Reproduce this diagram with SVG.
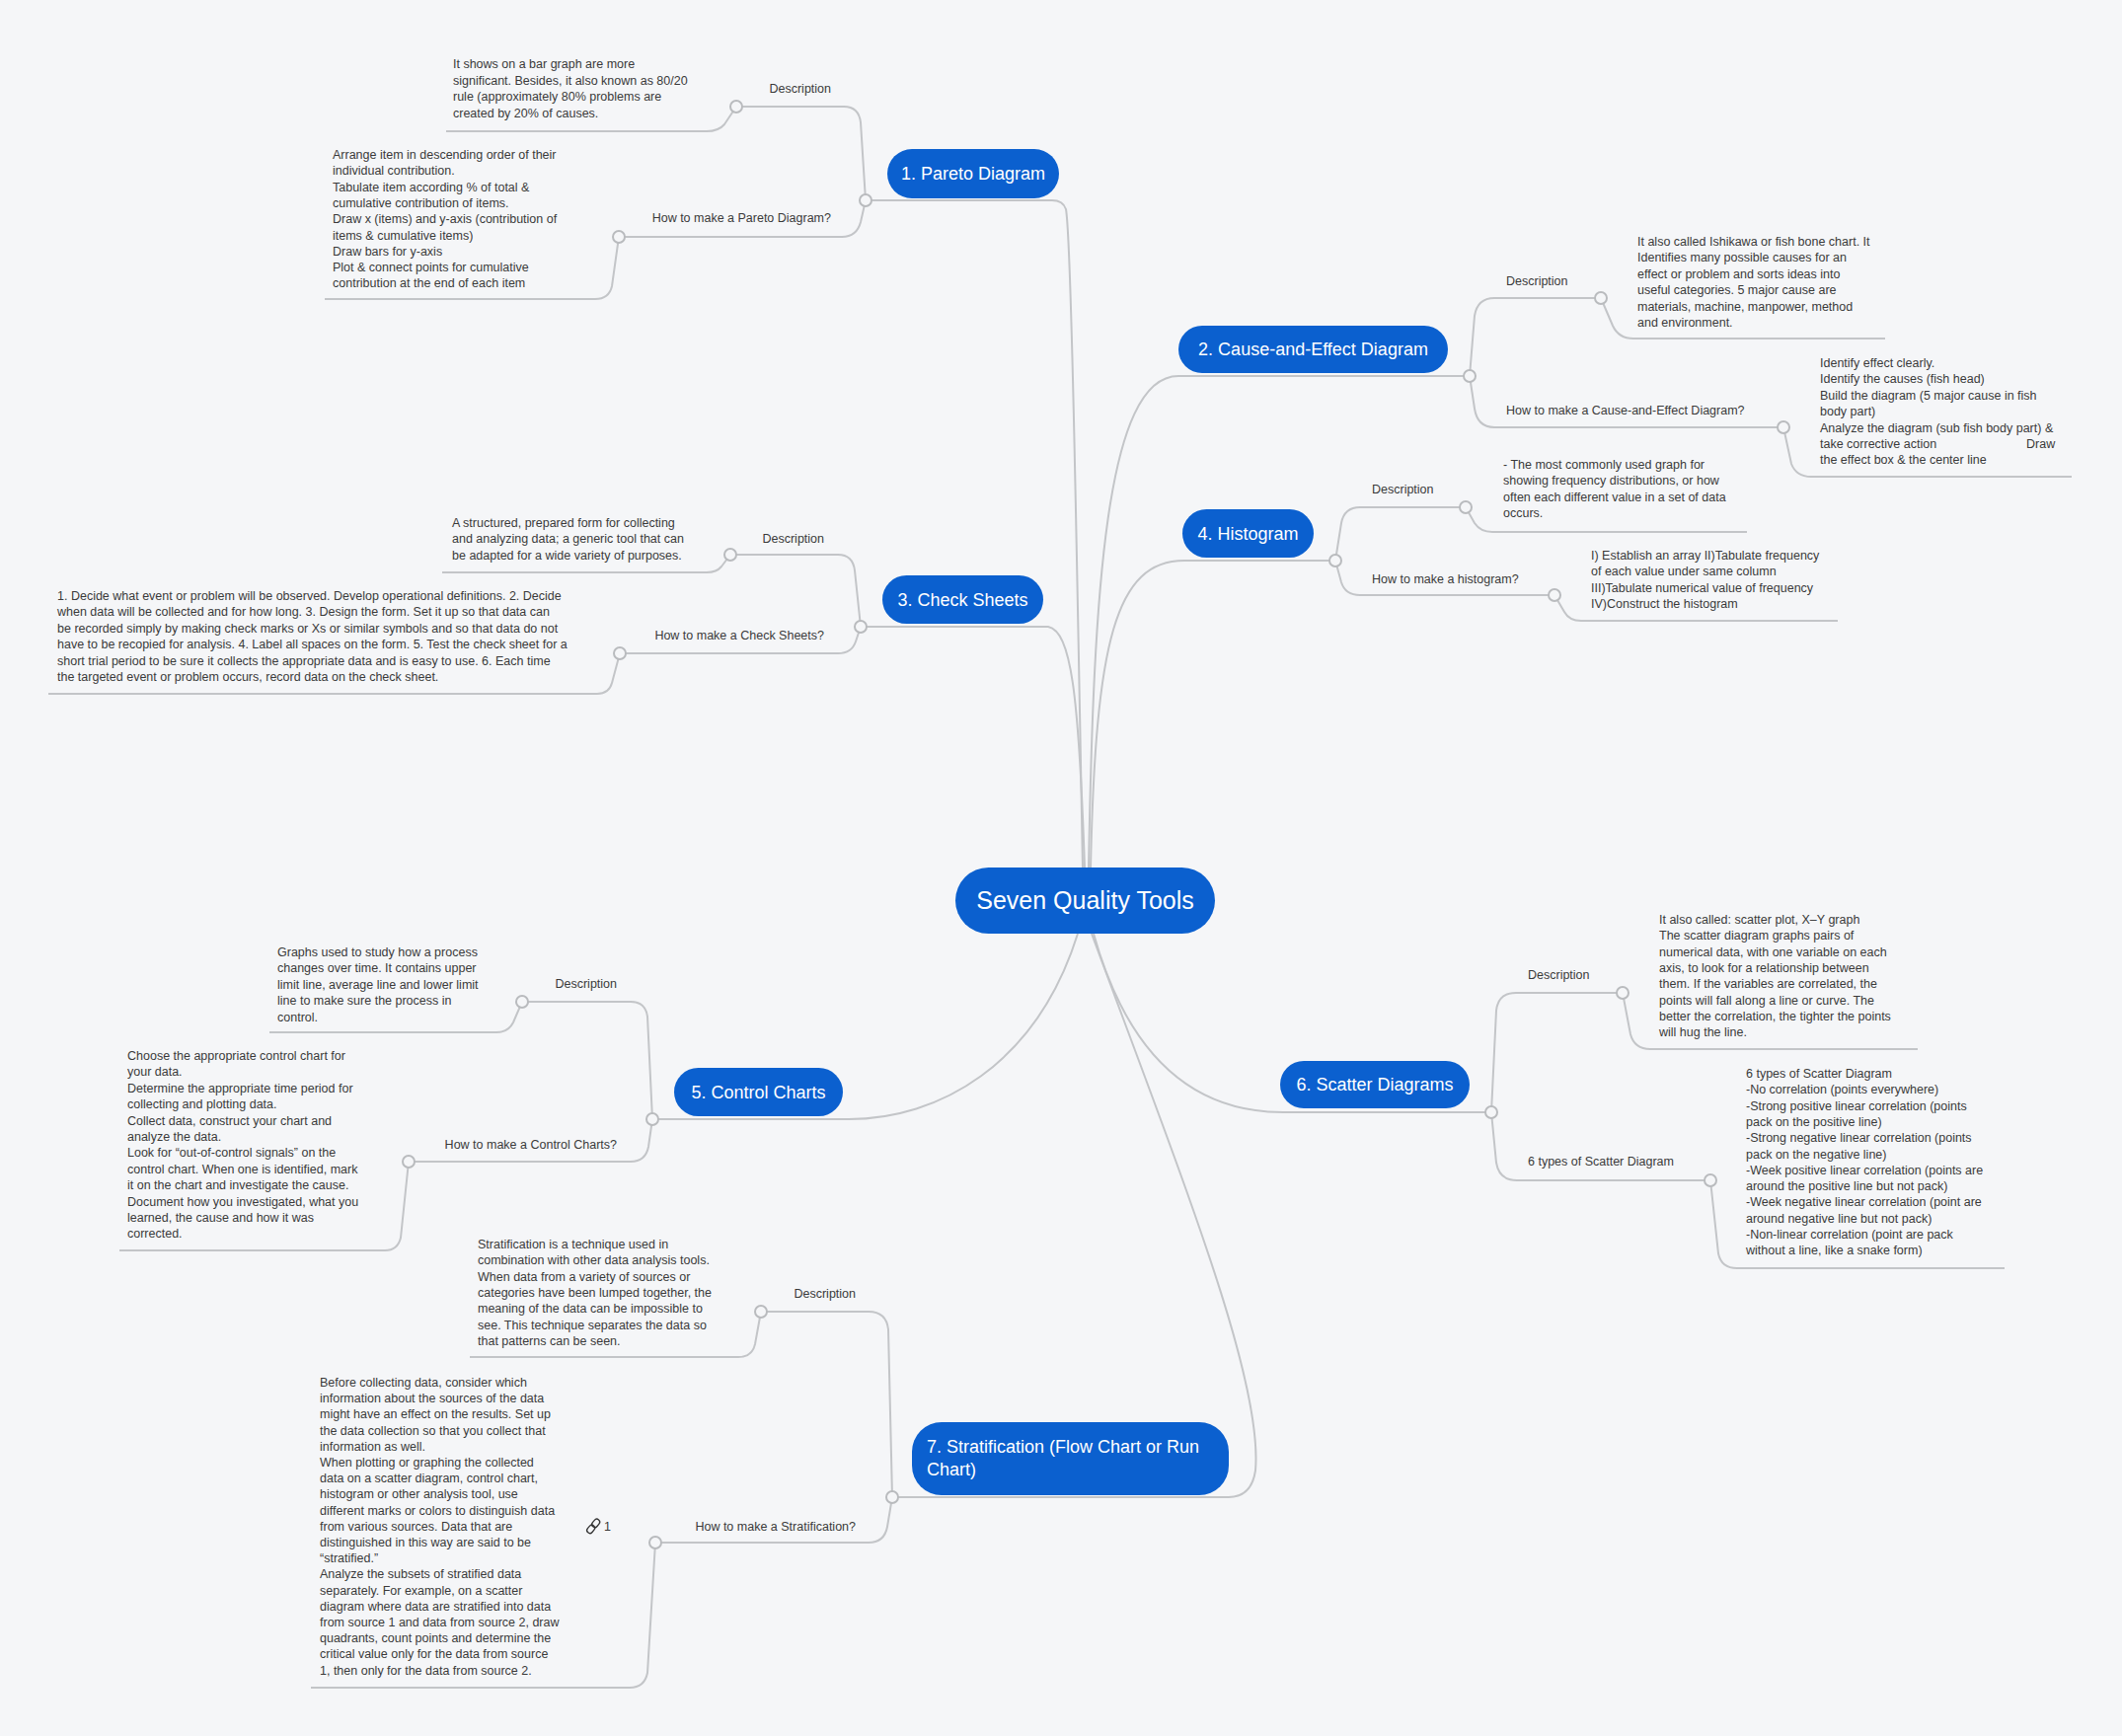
<svg xmlns="http://www.w3.org/2000/svg" width="2150" height="1759" viewBox="0 0 2150 1759">
<style>
.c{fill:none;stroke:#c3c5c8;stroke-width:2}
.h{fill:#f5f6f8;stroke:#b9bbbe;stroke-width:2}
.pill{fill:#0b60cf}
.tt{font-family:"Liberation Sans",Arial,sans-serif;font-size:18px;fill:#fff}
.lb{font-family:"Liberation Sans",Arial,sans-serif;font-size:12.5px;fill:#3a3a3a}
.tx{font-family:"Liberation Sans",Arial,sans-serif;font-size:12.5px;fill:#3a3a3a}
</style>
<rect width="2150" height="1759" fill="#f5f6f8"/>
<g id="connectors">
<path class="c" d="M1097,880 C1090,500 1085,240 1080,212 Q1077,203 1066,203 L877,203"/>
<path class="c" d="M877,203 L872,124 Q870,108 855,108 L746,108"/>
<path class="c" d="M746,108 L734,126 Q728,133 716,133 L452,133"/>
<path class="c" d="M877,203 L872,225 Q868,240 853,240 L627,240"/>
<path class="c" d="M627,240 L620,290 Q617,303 603,303 L329,303"/>
<path class="c" d="M1103,880 C1108,600 1120,381 1194,381 L1489,381"/>
<path class="c" d="M1489,381 L1494,320 Q1497,302 1514,302 L1622,302"/>
<path class="c" d="M1622,302 L1634,330 Q1640,343 1655,343 L1910,343"/>
<path class="c" d="M1489,381 L1494,414 Q1497,433 1514,433 L1807,433"/>
<path class="c" d="M1807,433 L1815,470 Q1820,483 1835,483 L2099,483"/>
<path class="c" d="M1105,880 C1110,650 1130,568 1200,568 L1353,568"/>
<path class="c" d="M1353,568 L1359,530 Q1362,514 1378,514 L1485,514"/>
<path class="c" d="M1485,514 L1494,530 Q1500,539 1512,539 L1770,539"/>
<path class="c" d="M1353,568 L1359,590 Q1363,603 1378,603 L1575,603"/>
<path class="c" d="M1575,603 L1585,620 Q1590,629 1602,629 L1862,629"/>
<path class="c" d="M1099,880 C1093,700 1085,640 1062,635 L872,635"/>
<path class="c" d="M872,635 L866,578 Q864,562 849,562 L740,562"/>
<path class="c" d="M740,562 L731,574 Q726,580 716,580 L448,580"/>
<path class="c" d="M872,635 L867,650 Q863,662 849,662 L628,662"/>
<path class="c" d="M628,662 L620,692 Q617,703 605,703 L49,703"/>
<path class="c" d="M1092,946 C1050,1080 950,1134 860,1134 L661,1134"/>
<path class="c" d="M661,1134 L656,1030 Q654,1015 639,1015 L529,1015"/>
<path class="c" d="M529,1015 L520,1036 Q515,1046 503,1046 L273,1046"/>
<path class="c" d="M661,1134 L657,1162 Q654,1177 639,1177 L414,1177"/>
<path class="c" d="M414,1177 L406,1254 Q403,1267 390,1267 L121,1267"/>
<path class="c" d="M1108,946 C1140,1060 1200,1127 1300,1127 L1511,1127"/>
<path class="c" d="M1511,1127 L1516,1024 Q1518,1006 1536,1006 L1644,1006"/>
<path class="c" d="M1644,1006 L1652,1048 Q1656,1063 1672,1063 L1943,1063"/>
<path class="c" d="M1511,1127 L1516,1178 Q1519,1196 1537,1196 L1733,1196"/>
<path class="c" d="M1733,1196 L1741,1270 Q1744,1285 1760,1285 L2031,1285"/>
<path class="c" d="M1106,946 C1200,1200 1280,1400 1272,1490 Q1268,1517 1245,1517 L904,1517"/>
<path class="c" d="M904,1517 L900,1347 Q898,1329 880,1329 L771,1329"/>
<path class="c" d="M771,1329 L765,1362 Q762,1375 748,1375 L476,1375"/>
<path class="c" d="M904,1517 L899,1547 Q896,1563 880,1563 L664,1563"/>
<path class="c" d="M664,1563 L656,1695 Q653,1710 638,1710 L315,1710"/>
</g>
<g id="hubs">
<circle class="h" cx="877" cy="203" r="6"/><circle class="h" cx="746" cy="108" r="6"/><circle class="h" cx="627" cy="240" r="6"/>
<circle class="h" cx="1489" cy="381" r="6"/><circle class="h" cx="1622" cy="302" r="6"/><circle class="h" cx="1807" cy="433" r="6"/>
<circle class="h" cx="1353" cy="568" r="6"/><circle class="h" cx="1485" cy="514" r="6"/><circle class="h" cx="1575" cy="603" r="6"/>
<circle class="h" cx="872" cy="635" r="6"/><circle class="h" cx="740" cy="562" r="6"/><circle class="h" cx="628" cy="662" r="6"/>
<circle class="h" cx="661" cy="1134" r="6"/><circle class="h" cx="529" cy="1015" r="6"/><circle class="h" cx="414" cy="1177" r="6"/>
<circle class="h" cx="1511" cy="1127" r="6"/><circle class="h" cx="1644" cy="1006" r="6"/><circle class="h" cx="1733" cy="1196" r="6"/>
<circle class="h" cx="904" cy="1517" r="6"/><circle class="h" cx="771" cy="1329" r="6"/><circle class="h" cx="664" cy="1563" r="6"/>
</g>
<g id="center">
<rect class="pill" x="968" y="879" width="263" height="67" rx="33.5"/>
<text x="1099.5" y="921" text-anchor="middle" font-family="Liberation Sans, Arial, sans-serif" font-size="25" fill="#fff">Seven Quality Tools</text>
</g>
<g id="t1">
<rect class="pill" x="899" y="151" width="174" height="50" rx="25"/>
<text class="tt" x="986" y="182" text-anchor="middle">1. Pareto Diagram</text>
<text class="lb" x="842" y="94" text-anchor="end">Description</text>
<text class="tx" x="459"><tspan x="459" y="69">It shows on a bar graph are more</tspan><tspan x="459" y="85.5">significant. Besides, it also known as 80/20</tspan><tspan x="459" y="102">rule (approximately 80% problems are</tspan><tspan x="459" y="118.5">created by 20% of causes.</tspan></text>
<text class="lb" x="842" y="225" text-anchor="end">How to make a Pareto Diagram?</text>
<text class="tx"><tspan x="337" y="161">Arrange item in descending order of their</tspan><tspan x="337" y="177.3">individual contribution.</tspan><tspan x="337" y="193.6">Tabulate item according % of total &amp;</tspan><tspan x="337" y="209.9">cumulative contribution of items.</tspan><tspan x="337" y="226.2">Draw x (items) and y-axis  (contribution of</tspan><tspan x="337" y="242.5">items &amp; cumulative items)</tspan><tspan x="337" y="258.8">Draw bars for y-axis</tspan><tspan x="337" y="275.1">Plot &amp; connect points for cumulative</tspan><tspan x="337" y="291.4">contribution at the end of each item</tspan></text>
</g>
<g id="t2">
<rect class="pill" x="1194" y="330" width="273" height="48" rx="24"/>
<text class="tt" x="1330.5" y="360" text-anchor="middle">2. Cause-and-Effect Diagram</text>
<text class="lb" x="1526" y="289">Description</text>
<text class="tx"><tspan x="1659" y="249">It also called Ishikawa or fish bone chart. It</tspan><tspan x="1659" y="265.4">Identifies many possible causes for an</tspan><tspan x="1659" y="281.8">effect or problem and sorts ideas into</tspan><tspan x="1659" y="298.2">useful categories. 5 major cause are</tspan><tspan x="1659" y="314.6">materials, machine, manpower, method</tspan><tspan x="1659" y="331">and environment.</tspan></text>
<text class="lb" x="1526" y="420">How to make a Cause-and-Effect Diagram?</text>
<text class="tx"><tspan x="1844" y="372">Identify effect clearly.</tspan><tspan x="1844" y="388.4">Identify the causes (fish head)</tspan><tspan x="1844" y="404.8">Build the diagram (5 major cause in fish</tspan><tspan x="1844" y="421.2">body part)</tspan><tspan x="1844" y="437.6">Analyze the diagram (sub fish body part) &amp;</tspan><tspan x="1844" y="454">take corrective action</tspan><tspan x="2053" y="454">Draw</tspan><tspan x="1844" y="470.4">the effect box &amp; the center line</tspan></text>
</g>
<g id="t4">
<rect class="pill" x="1198" y="516" width="133" height="49" rx="24.5"/>
<text class="tt" x="1264.5" y="547" text-anchor="middle">4. Histogram</text>
<text class="lb" x="1390" y="500">Description</text>
<text class="tx"><tspan x="1523" y="475">- The most commonly used graph for</tspan><tspan x="1523" y="491.4">showing frequency distributions, or how</tspan><tspan x="1523" y="507.8">often each different value in a set of data</tspan><tspan x="1523" y="524.2">occurs.</tspan></text>
<text class="lb" x="1390" y="591">How to make a histogram?</text>
<text class="tx"><tspan x="1612" y="567">I) Establish an array  II)Tabulate frequency</tspan><tspan x="1612" y="583.4">of each value under same column</tspan><tspan x="1612" y="599.8">III)Tabulate numerical value of frequency</tspan><tspan x="1612" y="616.2">IV)Construct the histogram</tspan></text>
</g>
<g id="t3">
<rect class="pill" x="894" y="583" width="163" height="49" rx="24.5"/>
<text class="tt" x="975.5" y="614" text-anchor="middle">3. Check Sheets</text>
<text class="lb" x="835" y="550" text-anchor="end">Description</text>
<text class="tx"><tspan x="458" y="534">A structured, prepared form for collecting</tspan><tspan x="458" y="550.4">and analyzing data; a generic tool that can</tspan><tspan x="458" y="566.8">be adapted for a wide variety of purposes.</tspan></text>
<text class="lb" x="835" y="648" text-anchor="end">How to make a Check Sheets?</text>
<text class="tx"><tspan x="58" y="608">1. Decide what event or problem will be observed. Develop operational definitions. 2. Decide</tspan><tspan x="58" y="624.4">when data will be collected and for how long. 3. Design the form. Set it up so that data can</tspan><tspan x="58" y="640.8">be recorded simply by making check marks or Xs or similar symbols and so that data do not</tspan><tspan x="58" y="657.2">have to be recopied for analysis. 4. Label all spaces on the form. 5. Test the check sheet for a</tspan><tspan x="58" y="673.6">short trial period to be sure it collects the appropriate data and is easy to use. 6. Each time</tspan><tspan x="58" y="690">the targeted event or problem occurs, record data on the check sheet.</tspan></text>
</g>
<g id="t5">
<rect class="pill" x="683" y="1082" width="171" height="49" rx="24.5"/>
<text class="tt" x="768.5" y="1113" text-anchor="middle">5. Control Charts</text>
<text class="lb" x="625" y="1001" text-anchor="end">Description</text>
<text class="tx"><tspan x="281" y="969">Graphs used to study how a process</tspan><tspan x="281" y="985.4">changes over time. It contains upper</tspan><tspan x="281" y="1001.8">limit line, average line and lower limit</tspan><tspan x="281" y="1018.2">line to make sure the process in</tspan><tspan x="281" y="1034.6">control.</tspan></text>
<text class="lb" x="625" y="1164" text-anchor="end">How to make a Control Charts?</text>
<text class="tx"><tspan x="129" y="1074">Choose the appropriate control chart for</tspan><tspan x="129" y="1090.4">your data.</tspan><tspan x="129" y="1106.8">Determine the appropriate time period for</tspan><tspan x="129" y="1123.2">collecting and plotting data.</tspan><tspan x="129" y="1139.6">Collect data, construct your chart and</tspan><tspan x="129" y="1156">analyze the data.</tspan><tspan x="129" y="1172.4">Look for “out-of-control signals” on the</tspan><tspan x="129" y="1188.8">control chart. When one is identified, mark</tspan><tspan x="129" y="1205.2">it on the chart and investigate the cause.</tspan><tspan x="129" y="1221.6">Document how you investigated, what you</tspan><tspan x="129" y="1238">learned, the cause and how it was</tspan><tspan x="129" y="1254.4">corrected.</tspan></text>
</g>
<g id="t6">
<rect class="pill" x="1297" y="1075" width="192" height="48" rx="24"/>
<text class="tt" x="1393" y="1105" text-anchor="middle">6. Scatter Diagrams</text>
<text class="lb" x="1548" y="992">Description</text>
<text class="tx"><tspan x="1681" y="936">It also called: scatter plot, X–Y graph</tspan><tspan x="1681" y="952.3">The scatter diagram graphs pairs of</tspan><tspan x="1681" y="968.6">numerical data, with one variable on each</tspan><tspan x="1681" y="984.9">axis, to look for a relationship between</tspan><tspan x="1681" y="1001.2">them. If the variables are correlated, the</tspan><tspan x="1681" y="1017.5">points will fall along a line or curve. The</tspan><tspan x="1681" y="1033.8">better the correlation, the tighter the points</tspan><tspan x="1681" y="1050.1">will hug the line.</tspan></text>
<text class="lb" x="1548" y="1181">6 types of Scatter Diagram</text>
<text class="tx"><tspan x="1769" y="1092">6 types of Scatter Diagram</tspan><tspan x="1769" y="1108.3">-No correlation (points everywhere)</tspan><tspan x="1769" y="1124.6">-Strong positive linear correlation (points</tspan><tspan x="1769" y="1140.9">pack on the positive line)</tspan><tspan x="1769" y="1157.2">-Strong negative linear correlation (points</tspan><tspan x="1769" y="1173.5">pack on the negative line)</tspan><tspan x="1769" y="1189.8">-Week positive linear correlation (points are</tspan><tspan x="1769" y="1206.1">around the positive line but not pack)</tspan><tspan x="1769" y="1222.4">-Week negative linear correlation (point are</tspan><tspan x="1769" y="1238.7">around negative line but not pack)</tspan><tspan x="1769" y="1255">-Non-linear correlation (point are pack</tspan><tspan x="1769" y="1271.3">without a line, like a snake form)</tspan></text>
</g>
<g id="t7">
<rect class="pill" x="924" y="1441" width="321" height="74" rx="30"/>
<text class="tt"><tspan x="939" y="1472">7. Stratification (Flow Chart or Run</tspan><tspan x="939" y="1495">Chart)</tspan></text>
<text class="lb" x="867" y="1315" text-anchor="end">Description</text>
<text class="tx"><tspan x="484" y="1265">Stratification is a technique used in</tspan><tspan x="484" y="1281.3">combination with other data analysis tools.</tspan><tspan x="484" y="1297.6">When data from a variety of sources or</tspan><tspan x="484" y="1313.9">categories have been lumped together, the</tspan><tspan x="484" y="1330.2">meaning of the data can be impossible to</tspan><tspan x="484" y="1346.5">see. This technique separates the data so</tspan><tspan x="484" y="1362.8">that patterns can be seen.</tspan></text>
<text class="lb" x="867" y="1551" text-anchor="end">How to make a Stratification?</text>
<text class="tx"><tspan x="324" y="1405">Before collecting data, consider which</tspan><tspan x="324" y="1421.2">information about the sources of the data</tspan><tspan x="324" y="1437.4">might have an effect on the results. Set up</tspan><tspan x="324" y="1453.6">the data collection so that you collect that</tspan><tspan x="324" y="1469.8">information as well.</tspan><tspan x="324" y="1486">When plotting or graphing the collected</tspan><tspan x="324" y="1502.2">data on a scatter diagram, control chart,</tspan><tspan x="324" y="1518.4">histogram or other analysis tool, use</tspan><tspan x="324" y="1534.6">different marks or colors to distinguish data</tspan><tspan x="324" y="1550.8">from various sources. Data that are</tspan><tspan x="324" y="1567">distinguished in this way are said to be</tspan><tspan x="324" y="1583.2">“stratified.”</tspan><tspan x="324" y="1599.4">Analyze the subsets of stratified data</tspan><tspan x="324" y="1615.6">separately. For example, on a scatter</tspan><tspan x="324" y="1631.8">diagram where data are stratified into data</tspan><tspan x="324" y="1648">from source 1 and data from source 2, draw</tspan><tspan x="324" y="1664.2">quadrants, count points and determine the</tspan><tspan x="324" y="1680.4">critical value only for the data from source</tspan><tspan x="324" y="1696.6">1, then only for the data from source 2.</tspan></text>
<g fill="none" stroke="#333" stroke-width="1.3"><rect x="596" y="1545" width="6" height="9" rx="3" transform="rotate(40 599 1549)"/><rect x="601" y="1539" width="6" height="9" rx="3" transform="rotate(40 604 1543)"/></g>
<text class="tx" x="612" y="1551">1</text>
</g>
</svg>
